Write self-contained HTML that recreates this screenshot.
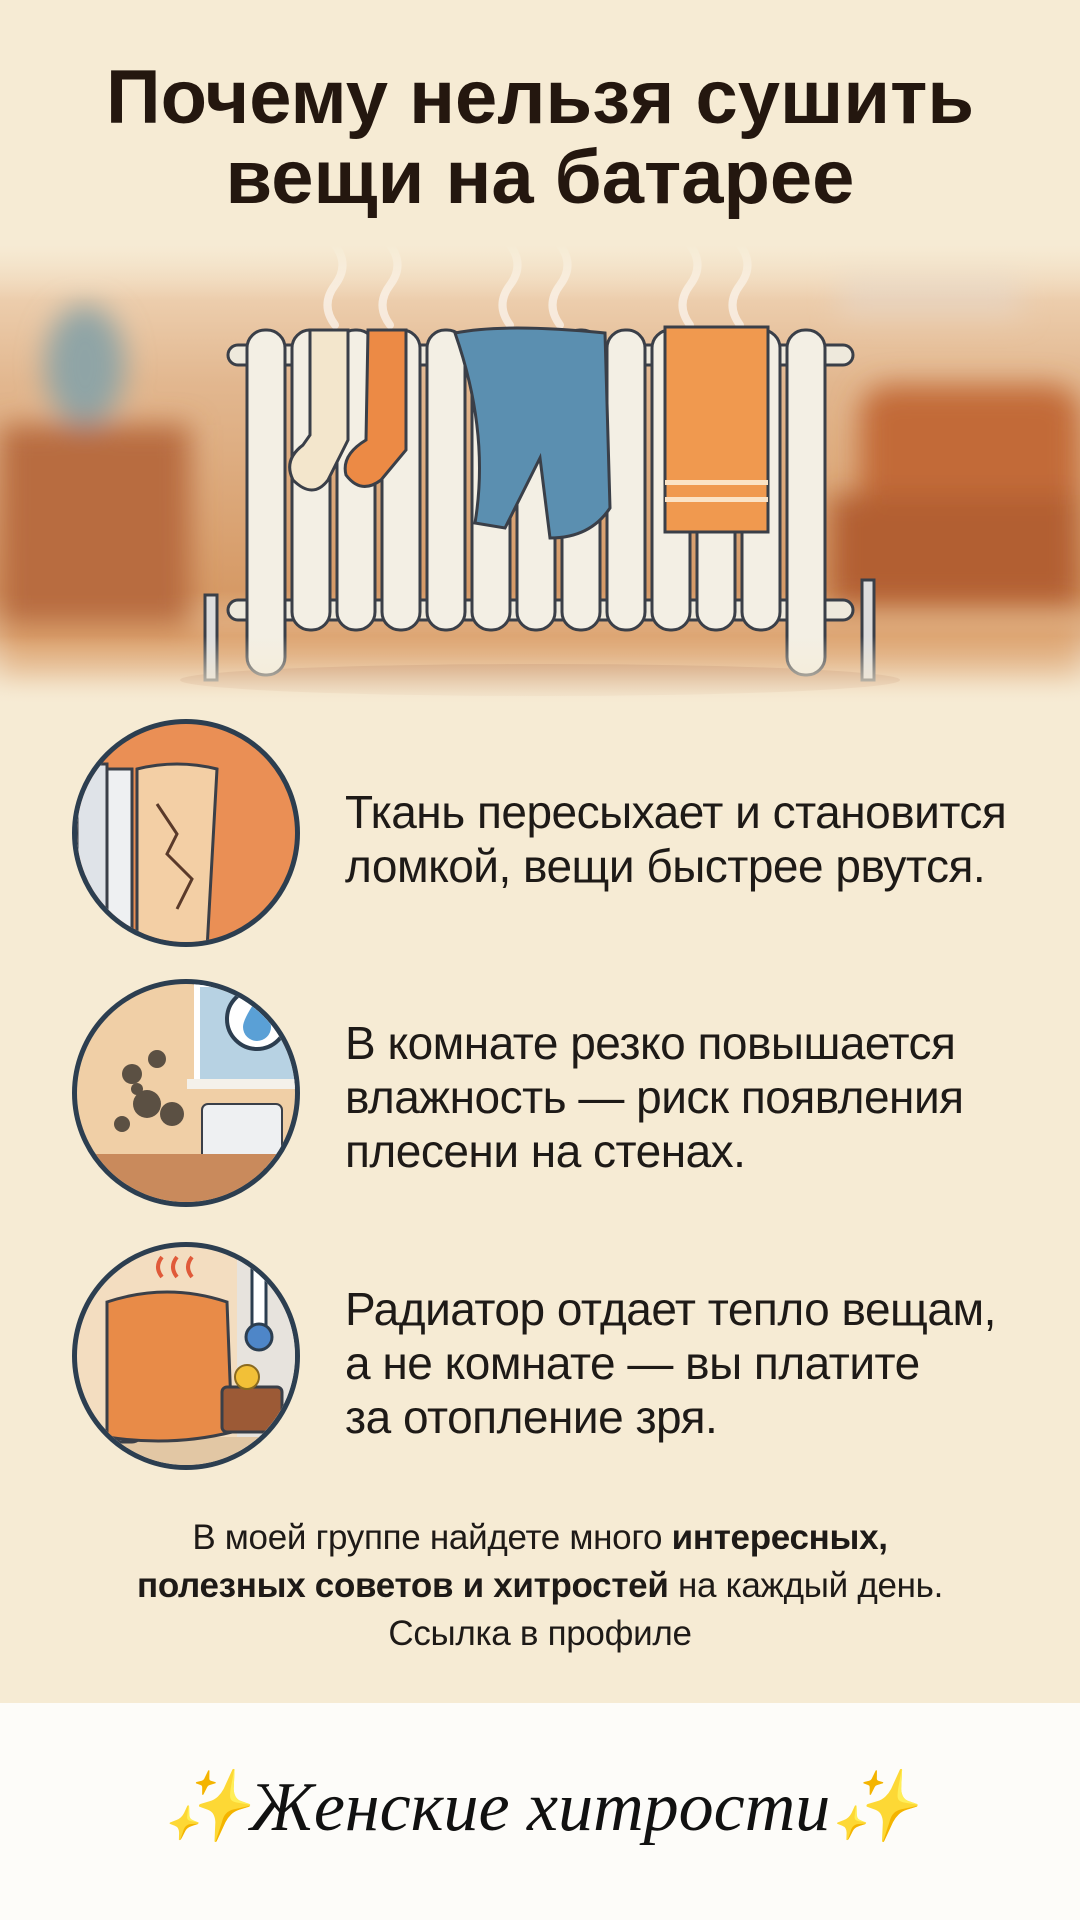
<!DOCTYPE html>
<html><head><meta charset="utf-8"><style>
html,body{margin:0;padding:0}
body{width:1080px;height:1920px;position:relative;overflow:hidden;background:#f6ebd4;font-family:"Liberation Sans",sans-serif;color:#1c1410}
.t{position:absolute;left:0;width:1080px;text-align:center;font-weight:bold;font-size:76px;line-height:80px;color:#24170f}
.p{position:absolute;left:345px;font-size:46px;line-height:54px;color:#1e1a17;letter-spacing:-0.5px}
.f{position:absolute;left:0;width:1080px;text-align:center;font-size:35px;line-height:48px;color:#1e1a17;letter-spacing:-0.3px}
.circ{position:absolute;left:72px;width:228px;height:228px;border-radius:50%;overflow:hidden;box-sizing:border-box;border:5px solid #2c3e50}
</style></head><body>
<div class="t" style="top:58px">Почему нельзя сушить<br>вещи на батарее</div>

<svg style="position:absolute;left:0;top:245px" width="1080" height="460" viewBox="0 0 1080 460">
<defs>
<linearGradient id="bg" x1="0" y1="0" x2="0" y2="1"><stop offset="0" stop-color="#f3dcc0"/><stop offset="0.3" stop-color="#e2b78f"/><stop offset="0.75" stop-color="#d69a66"/><stop offset="1" stop-color="#f6ead6"/></linearGradient>
<filter id="bl"><feGaussianBlur stdDeviation="14"/></filter>
<linearGradient id="fade" x1="0" y1="0" x2="0" y2="1"><stop offset="0" stop-color="#f6ebd4"/><stop offset="0.12" stop-color="#f6ebd4" stop-opacity="0"/><stop offset="0.85" stop-color="#f6ebd4" stop-opacity="0"/><stop offset="1" stop-color="#f6ebd4"/></linearGradient>
</defs>
<rect width="1080" height="460" fill="url(#bg)"/>
<g filter="url(#bl)">
<rect x="0" y="180" width="190" height="240" fill="#b86c40"/>
<ellipse cx="85" cy="120" rx="40" ry="60" fill="#8fa4a6"/>
<rect x="860" y="140" width="220" height="220" rx="30" fill="#c26a38"/>
<rect x="830" y="250" width="250" height="110" fill="#b25f32"/>
<rect x="840" y="20" width="180" height="50" fill="#e8d3bd"/>
<rect x="0" y="380" width="1080" height="60" fill="#dca06c"/>
</g>
<g fill="none" stroke="#fff" stroke-opacity="0.6" stroke-width="8" stroke-linecap="round">
<path d="M335 80 q-15 -20 0 -40 q15 -20 0 -40"/><path d="M390 80 q-15 -20 0 -40 q15 -20 0 -40"/>
<path d="M510 80 q-15 -20 0 -40 q15 -20 0 -40"/><path d="M560 80 q-15 -20 0 -40 q15 -20 0 -40"/>
<path d="M690 80 q-15 -20 0 -40 q15 -20 0 -40"/><path d="M740 80 q-15 -20 0 -40 q15 -20 0 -40"/>
</g>
<ellipse cx="540" cy="435" rx="360" ry="16" fill="#b57248" opacity="0.5"/>
<g stroke="#3a3f48" stroke-width="3">
<rect x="228" y="100" width="625" height="20" rx="10" fill="#eee9dc"/>
<rect x="228" y="355" width="625" height="20" rx="10" fill="#eee9dc"/>
<g fill="#f3efe4">
<rect x="247" y="85" width="38" height="345" rx="18"/><rect x="292" y="85" width="38" height="300" rx="18"/>
<rect x="337" y="85" width="38" height="300" rx="18"/><rect x="382" y="85" width="38" height="300" rx="18"/>
<rect x="427" y="85" width="38" height="300" rx="18"/><rect x="472" y="85" width="38" height="300" rx="18"/>
<rect x="517" y="85" width="38" height="300" rx="18"/><rect x="562" y="85" width="38" height="300" rx="18"/>
<rect x="607" y="85" width="38" height="300" rx="18"/><rect x="652" y="85" width="38" height="300" rx="18"/>
<rect x="697" y="85" width="38" height="300" rx="18"/><rect x="742" y="85" width="38" height="300" rx="18"/>
<rect x="787" y="85" width="38" height="345" rx="18"/>
</g>
<rect x="205" y="350" width="12" height="85" fill="#ddd"/><rect x="862" y="335" width="12" height="100" fill="#ddd"/>
<path d="M310 85 h38 v110 l-20 40 q-15 20 -35 0 q-10 -20 10 -35 l7 -10z" fill="#f3e6cc"/>
<path d="M368 85 h38 v120 l-25 30 q-20 15 -35 -5 q-5 -20 20 -35z" fill="#ec8a45"/>
<path d="M455 88 q50 -10 150 0 l5 175 q-20 30 -60 30 l-10 -80 l-35 70 l-30 -5 q15 -90 -20 -190z" fill="#5b8fb0"/>
<path d="M665 82 h103 v205 h-103z" fill="#f0994f"/>
<rect x="665" y="235" width="103" height="5" fill="#fbe3c6" stroke="none"/><rect x="665" y="252" width="103" height="5" fill="#fbe3c6" stroke="none"/>
</g>
<rect width="1080" height="460" fill="url(#fade)"/>
</svg>

<div class="circ" style="top:719px;background:#ea8f55">
<svg width="218" height="218" viewBox="0 0 218 218">
<rect x="0" y="40" width="30" height="190" fill="#dfe3e8" stroke="#3a3f48" stroke-width="3"/>
<rect x="30" y="45" width="25" height="190" fill="#eef0f2" stroke="#3a3f48" stroke-width="3"/>
<path d="M60 45 q40 -10 80 0 l-10 180 h-70z" fill="#f3cfa5" stroke="#3a3f48" stroke-width="3"/>
<path d="M80 80 l20 30 l-10 20 l25 25 l-15 30" fill="none" stroke="#5a3a2a" stroke-width="3"/>
</svg></div>
<div class="p" style="top:785px">Ткань пересыхает и становится<br>ломкой, вещи быстрее рвутся.</div>

<div class="circ" style="top:979px;background:#f0cfa6">
<svg width="218" height="218" viewBox="0 0 218 218">
<rect x="120" y="0" width="100" height="100" fill="#b7d2e3" stroke="#fff" stroke-width="6"/>
<rect x="110" y="95" width="110" height="10" fill="#f4f1ea"/>
<rect x="125" y="120" width="80" height="65" rx="6" fill="#eef0f2" stroke="#3a3f48" stroke-width="2"/>
<rect x="0" y="170" width="218" height="50" fill="#c98a5c"/>
<g fill="#2a2622" opacity="0.75"><circle cx="55" cy="90" r="10"/><circle cx="80" cy="75" r="9"/><circle cx="70" cy="120" r="14"/><circle cx="95" cy="130" r="12"/><circle cx="45" cy="140" r="8"/><circle cx="60" cy="105" r="6"/></g>
<circle cx="180" cy="35" r="30" fill="#fff" stroke="#2c3e50" stroke-width="4"/>
<path d="M180 15 q-14 20 -14 28 a14 14 0 0 0 28 0 q0 -8 -14 -28z" fill="#5aa0d6"/>
</svg></div>
<div class="p" style="top:1016px">В комнате резко повышается<br>влажность — риск появления<br>плесени на стенах.</div>

<div class="circ" style="top:1242px;background:#f3ddc0">
<svg width="218" height="218" viewBox="0 0 218 218">
<rect x="160" y="0" width="60" height="218" fill="#e7e3dd"/>
<rect x="0" y="190" width="218" height="30" fill="#e2c7a4"/>
<rect x="35" y="75" width="30" height="120" rx="10" fill="#eef0f2" stroke="#3a3f48" stroke-width="3"/>
<path d="M30 55 q60 -20 120 0 l5 130 q-60 15 -125 5z" fill="#e88b48" stroke="#3a3f48" stroke-width="3"/>
<path d="M85 30 q-8 -10 0 -20 M100 30 q-8 -10 0 -20 M115 30 q-8 -10 0 -20" stroke="#e05a3a" stroke-width="4" fill="none"/>
<rect x="175" y="10" width="14" height="75" rx="7" fill="#fff" stroke="#2c3e50" stroke-width="3"/>
<circle cx="182" cy="90" r="13" fill="#4e86c8" stroke="#2c3e50" stroke-width="3"/>
<rect x="145" y="140" width="60" height="45" rx="5" fill="#9c5a36" stroke="#3a3f48" stroke-width="3"/>
<circle cx="170" cy="130" r="12" fill="#f2c037" stroke="#8a6a20" stroke-width="2"/>
</svg></div>
<div class="p" style="top:1282px">Радиатор отдает тепло вещам,<br>а не комнате — вы платите<br>за отопление зря.</div>

<div class="f" style="top:1514px">В моей группе найдете много <b>интересных,</b><br><b>полезных советов и хитростей</b> на каждый день.<br>Ссылка в профиле</div>

<div style="position:absolute;left:0;top:1703px;width:1080px;height:217px;background:#fdfcf9"></div>
<div style="position:absolute;left:0;top:1768px;width:1080px;text-align:center;font-family:'Liberation Serif',serif;font-style:italic;font-size:70px;line-height:80px;color:#111"><span style="color:#f2c230">✨</span>Женские хитрости<span style="color:#f2c230">✨</span></div>
</body></html>
